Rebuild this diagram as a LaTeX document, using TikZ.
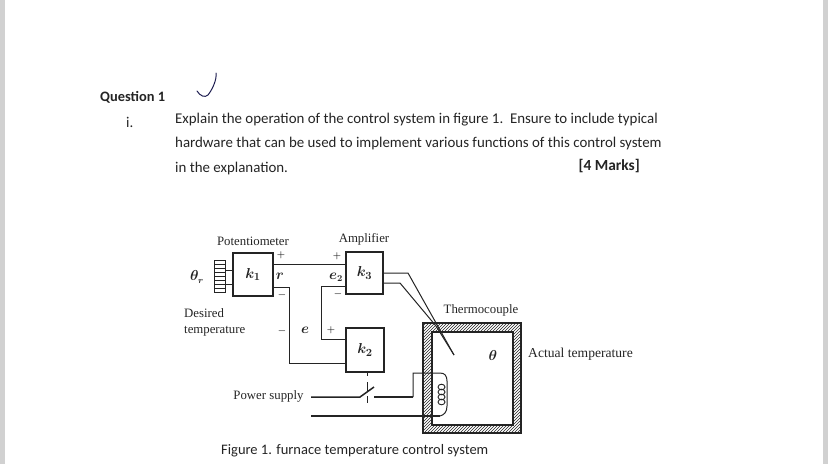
\documentclass[tikz,border=0pt]{standalone}
\usepackage{fontspec}
\setmainfont{Carlito}
\newfontfamily\diag{Liberation Serif}
\usetikzlibrary{patterns,calc}
\definecolor{ink}{gray}{0.14}
\tikzset{
 body/.style={font=\fontsize{14.9}{17}\selectfont,text=ink,anchor=west,inner sep=0pt},
 lab/.style={font=\diag\fontsize{12.8}{14}\selectfont,text=ink,inner sep=0pt},
 sym/.style={font=\fontsize{13.5}{15}\selectfont\boldmath,text=ink,inner sep=0pt},
 sign/.style={font=\fontsize{9.5}{11}\selectfont\boldmath,text=ink,inner sep=0pt},
 blockbox/.style={draw=ink,line width=1.2pt,inner sep=0pt,font=\fontsize{15}{17}\selectfont\boldmath,text=ink},
 wire/.style={draw=ink,line width=1pt},
 heavy/.style={draw=ink,line width=1.5pt},
}
\begin{document}
\begin{tikzpicture}[x=1pt,y=-1pt]
\useasboundingbox (0,0) rectangle (828,464);
\fill[black!18] (0,0) rectangle (5,464);
\fill[black!18] (823,0) rectangle (828,464);
% tick
\draw[draw=ink!80!blue,line width=1pt,line cap=round] (197,91) .. controls (200,96) and (205,98) .. (208,95) .. controls (212,90) and (217,80) .. (216,73);
% text
\node[body,font=\bfseries\fontsize{14.4}{16}\selectfont] (q) at (100,97.5) {Question 1};
\node[body] (i) at (126,122) {i.};
\node[body] (l1) at (175,119.5) {Explain the operation of the control system in figure 1.\ \ Ensure to include typical};
\node[body] (l2) at (175,144) {hardware that can be used to implement various functions of this control system};
\node[body] (l3) at (175,169) {in the explanation.};
\node[body,font=\bfseries\fontsize{15.4}{17}\selectfont,anchor=east] (m) at (640,166) {[4 Marks]};
\node[body,anchor=west,font=\fontsize{14.5}{16}\selectfont] (cap) at (221,451) {Figure 1. furnace temperature control system};
% blocks
\node[blockbox,minimum width=40pt,minimum height=43pt] (pot) at (253,274.5) {$k_1$};
\node[blockbox,minimum width=37pt,minimum height=42pt] (amp) at (364.5,273) {$k_3$};
\node[blockbox,minimum width=38pt,minimum height=44pt] (ktwo) at (365,350) {$k_2$};
\node[draw=ink,line width=1pt,minimum width=11pt,minimum height=32pt,inner sep=0pt] (knob) at (219.5,276) {};
\foreach \yy in {264,268,272,276,280,284,288}{\draw[ink,line width=.7pt] (214,\yy) -- (225,\yy);}
\draw[wire] (knob.east |- 0,270) -- (pot.west |- 0,270);
\draw[wire] (knob.east |- 0,284) -- (pot.west |- 0,284);
% wires
\draw[wire] (pot.east |- 0,264) -- (amp.west |- 0,264);
\draw[wire] (pot.east |- 0,287) -- (289,287) -- (289,363) -- (ktwo.west |- 0,363);
\draw[wire] (amp.west |- 0,286) -- (321,286) -- (321,339) -- (ktwo.west |- 0,339);
% furnace
\coordinate (fo1) at (423,323); \coordinate (fo2) at (521,433);
\coordinate (fi1) at (432,332); \coordinate (fi2) at (513,425);
\begin{scope}
\clip (fo1) rectangle (fo2);
\fill[even odd rule,pattern=north east lines,pattern color=ink] (fo1) rectangle (fo2) (fi1) rectangle (fi2);
\end{scope}
\draw[draw=ink,line width=1.2pt] (fo1) rectangle (fo2);
\draw[draw=ink,line width=1.2pt] (fi1) rectangle (fi2);
% thermocouple
\coordinate (tip) at (454,355);
\draw[wire] (amp.east |- 0,273) -- (408,273) -- (tip);
\draw[wire] (amp.east |- 0,283) -- (400,283) -- (436,326) -- (tip);
% switch and power
\coordinate (swa) at (360,397); \coordinate (swb) at (374,387); \coordinate (swc) at (374,397);
\coordinate (ps1) at (311,397); \coordinate (ps2) at (311,416);
\draw[heavy] (ps1) -- (swa) -- (swb);
\draw[wire] (ktwo.south) ++(2,0) -- ++(0,3);
\draw[wire] (367,382) -- (367,391);
\draw[wire] (367,396) -- (367,403);
\draw[heavy] (swc) -- (413,397);
\draw[wire] (413,397) -- (413,373) -- (440,373) .. controls (445,373) and (447,376) .. (447,381) -- (447,406) .. controls (447,412) and (444,415) .. (440,416);
\draw[heavy] (ps2) -- (440,416);
\foreach \yy in {387,392,397,402}{\draw[ink,line width=.9pt] (441.5,\yy) ellipse [x radius=3.5pt,y radius=2.8pt];}
% labels
\node[lab] (lp) at (253,241) {Potentiometer};
\node[lab] (la) at (364,239) {Amplifier};
\node[lab,align=left,anchor=west] (ld) at (184,322.5) {Desired\\[2.5pt]temperature};
\node[lab] (lt) at (481,310.5) {Thermocouple};
\node[lab,anchor=west,font=\diag\fontsize{13.6}{15}\selectfont] (lat) at (528,354.5) {Actual temperature};
\node[lab] (lps) at (268.5,396) {Power supply};
\node[sym] (tr) at (197,277) {$\theta_r$};
\node[sym] (t) at (493,355) {$\theta$};
\node[sign] (s1) at (281,255) {$+$};
\node[sym] (s2) at (280,276) {$r$};
\node[sign] (s3) at (282,295) {$-$};
\node[sign] (s4) at (337,256) {$+$};
\node[sym] (s5) at (336,277) {$e_2$};
\node[sign] (s6) at (338,294) {$-$};
\node[sign] (s7) at (282,331) {$-$};
\node[sym] (s8) at (305,330) {$e$};
\node[sign] (s9) at (331,330) {$+$};
\end{tikzpicture}
\end{document}
